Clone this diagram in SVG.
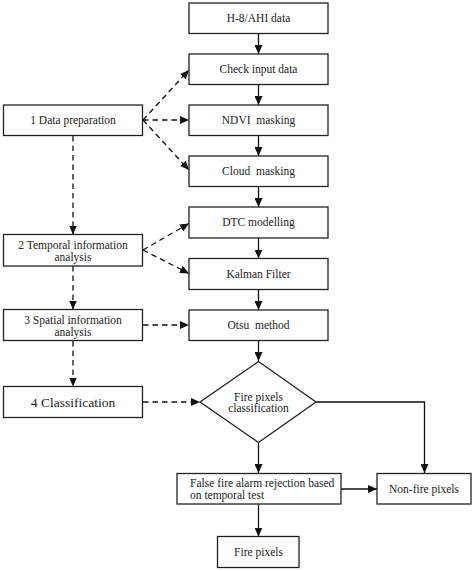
<svg xmlns="http://www.w3.org/2000/svg" width="474" height="571" viewBox="0 0 474 571">
<style>
.box{fill:#fff;stroke:#222;stroke-width:1.3}
.t{font-family:"Liberation Serif","DejaVu Serif",serif;font-size:11.5px;fill:#222;text-anchor:middle}
.big{font-size:13.5px}
.l{text-anchor:start}
.c{fill:none;stroke:#111;stroke-width:1.3}
.d{stroke-dasharray:5.5,4}
</style>
<defs>
<marker id="ah" markerUnits="userSpaceOnUse" markerWidth="10" markerHeight="8" refX="9" refY="4" orient="auto">
<path d="M0,0 L9,4 L0,8 Z" fill="#111"/>
</marker>
</defs>
<rect width="474" height="571" fill="#fff"/>
<g id="connectors">
<line class="c" x1="258.5" y1="33.5" x2="258.5" y2="54" marker-end="url(#ah)"/>
<line class="c" x1="258.5" y1="84.5" x2="258.5" y2="105" marker-end="url(#ah)"/>
<line class="c" x1="258.5" y1="135.5" x2="258.5" y2="156" marker-end="url(#ah)"/>
<line class="c" x1="258.5" y1="186.5" x2="258.5" y2="207" marker-end="url(#ah)"/>
<line class="c" x1="258.5" y1="238" x2="258.5" y2="258.5" marker-end="url(#ah)"/>
<line class="c" x1="258.5" y1="289.5" x2="258.5" y2="310" marker-end="url(#ah)"/>
<line class="c" x1="258.5" y1="340.5" x2="258.5" y2="361" marker-end="url(#ah)"/>
<line class="c" x1="258.5" y1="442.5" x2="258.5" y2="473" marker-end="url(#ah)"/>
<polyline class="c" points="316,402 424.5,402 424.5,473" marker-end="url(#ah)"/>
<line class="c" x1="341" y1="489" x2="377" y2="489" marker-end="url(#ah)"/>
<line class="c" x1="258.5" y1="504.5" x2="258.5" y2="536.5" marker-end="url(#ah)"/>
<line class="c d" x1="143" y1="120" x2="189" y2="70" marker-end="url(#ah)"/>
<line class="c d" x1="143" y1="120" x2="189" y2="120" marker-end="url(#ah)"/>
<line class="c d" x1="143" y1="120" x2="189" y2="170" marker-end="url(#ah)"/>
<line class="c d" x1="73" y1="136" x2="73" y2="234.5" marker-end="url(#ah)"/>
<line class="c d" x1="143" y1="250" x2="189" y2="223.5" marker-end="url(#ah)"/>
<line class="c d" x1="143" y1="250" x2="189" y2="273.5" marker-end="url(#ah)"/>
<line class="c d" x1="73" y1="266" x2="73" y2="309.5" marker-end="url(#ah)"/>
<line class="c d" x1="143" y1="325" x2="189" y2="325" marker-end="url(#ah)"/>
<line class="c d" x1="73" y1="341" x2="73" y2="386.5" marker-end="url(#ah)"/>
<line class="c d" x1="143" y1="402" x2="200" y2="402" marker-end="url(#ah)"/>
</g>
<g id="n_h8"><rect class="box" x="189" y="3" width="139" height="30.5"/><text class="t" x="258.5" y="22">H-8/AHI data</text></g>
<g id="n_check"><rect class="box" x="189" y="54" width="139" height="30.5"/><text class="t" x="258.5" y="73">Check input data</text></g>
<g id="n_ndvi"><rect class="box" x="189" y="105" width="139" height="30.5"/><text class="t" x="258.5" y="124" xml:space="preserve">NDVI  masking</text></g>
<g id="n_cloud"><rect class="box" x="189" y="156" width="139" height="30.5"/><text class="t" x="258.5" y="175" xml:space="preserve">Cloud  masking</text></g>
<g id="n_dtc"><rect class="box" x="189" y="207" width="139" height="31"/><text class="t" x="258.5" y="226">DTC modelling</text></g>
<g id="n_kalman"><rect class="box" x="189" y="258.5" width="139" height="31"/><text class="t" x="258.5" y="278">Kalman Filter</text></g>
<g id="n_otsu"><rect class="box" x="189" y="310" width="139" height="30.5"/><text class="t" x="258.5" y="329" xml:space="preserve">Otsu  method</text></g>
<g id="n_fireclass"><polygon class="box" points="258.5,361.5 316,402 258.5,442.5 200,402"/><text class="t" x="258.5" y="400.5">Fire pixels</text><text class="t" x="258.5" y="412">classification</text></g>
<g id="n_false"><rect class="box" x="177" y="473.5" width="164" height="30.5"/><text class="t l" x="190" y="487">False fire alarm rejection based</text><text class="t l" x="190" y="499">on temporal test</text></g>
<g id="n_nonfire"><rect class="box" x="377" y="473.5" width="94" height="30.5"/><text class="t" x="424" y="493">Non-fire pixels</text></g>
<g id="n_fire"><rect class="box" x="217.5" y="536.5" width="81.5" height="31"/><text class="t" x="258.5" y="556">Fire pixels</text></g>
<g id="n_s1"><rect class="box" x="3.5" y="105" width="139" height="30.5"/><text class="t" x="73" y="124">1 Data preparation</text></g>
<g id="n_s2"><rect class="box" x="3.5" y="234.5" width="139" height="31.5"/><text class="t" x="73" y="249">2 Temporal information</text><text class="t" x="73" y="260.5">analysis</text></g>
<g id="n_s3"><rect class="box" x="3.5" y="309.5" width="139" height="31"/><text class="t" x="73" y="324">3 Spatial information</text><text class="t" x="73" y="335.5">analysis</text></g>
<g id="n_s4"><rect class="box" x="3.5" y="386.5" width="139" height="31"/><text class="t big" x="73" y="407">4 Classification</text></g>
</svg>
